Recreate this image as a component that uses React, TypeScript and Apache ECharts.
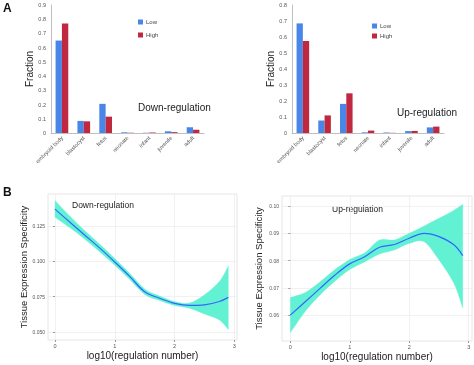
import React, { useEffect, useRef } from "react";
import * as echarts from "echarts";

const categories = ["embryoid body", "blastocyst", "fetus", "neonate", "infant", "juvenile", "adult"];
const downLow = [0.65, 0.085, 0.205, 0.005, 0.002, 0.012, 0.04];
const downHigh = [0.77, 0.082, 0.115, 0.001, 0.003, 0.006, 0.022];
const upLow = [0.685, 0.078, 0.182, 0.004, 0.003, 0.012, 0.035];
const upHigh = [0.575, 0.11, 0.248, 0.015, 0.001, 0.013, 0.04];

const regX = [0, 0.25, 0.5, 0.75, 1, 1.25, 1.5, 1.75, 2, 2.25, 2.5, 2.75, 2.9];
const downMean = [0.1368, 0.1276, 0.1184, 0.1093, 0.0995, 0.0893, 0.0785, 0.0739, 0.0703, 0.0688, 0.0692, 0.0716, 0.0745];
const downUpper = [0.1429, 0.1318, 0.1215, 0.112, 0.102, 0.0915, 0.0805, 0.0755, 0.0716, 0.0705, 0.0763, 0.0857, 0.0967];
const downLower = [0.1311, 0.1236, 0.1155, 0.1066, 0.0972, 0.0872, 0.0766, 0.0723, 0.0688, 0.0668, 0.0628, 0.0585, 0.0517];
const upMean = [0.06, 0.0649, 0.0698, 0.0747, 0.0788, 0.0814, 0.0849, 0.0859, 0.0882, 0.09, 0.0888, 0.0858, 0.0818];
const upUpper = [0.0665, 0.0683, 0.0722, 0.0767, 0.0804, 0.0829, 0.0876, 0.0876, 0.09, 0.0927, 0.0955, 0.0985, 0.1007];
const upLower = [0.0535, 0.0613, 0.0674, 0.0724, 0.0767, 0.0795, 0.0824, 0.0839, 0.0863, 0.0869, 0.0802, 0.0717, 0.0626];

const xTicks = [0, 1, 2, 3];
const downYTicks = [0.05, 0.075, 0.1, 0.125];
const upYTicks = [0.06, 0.07, 0.08, 0.09, 0.1];

const BLUE = "#4a86e8";
const RED = "#c0283f";
const BAND = "#62f2d3";
const LINE = "#3366ff";
const FONT = "Liberation Sans, Arial, sans-serif";

// Catmull-Rom spline through pixel points, as SVG cubic segments (no moveTo)
function splineSegs(p: number[][]): string {
  let d = "";
  const n = p.length;
  for (let i = 0; i < n - 1; i++) {
    const p0 = p[Math.max(0, i - 1)];
    const p1 = p[i];
    const p2 = p[i + 1];
    const p3 = p[Math.min(n - 1, i + 2)];
    const c1x = p1[0] + (p2[0] - p0[0]) / 6;
    const c1y = p1[1] + (p2[1] - p0[1]) / 6;
    const c2x = p2[0] - (p3[0] - p1[0]) / 6;
    const c2y = p2[1] - (p3[1] - p1[1]) / 6;
    d += ` C${c1x.toFixed(2)},${c1y.toFixed(2)} ${c2x.toFixed(2)},${c2y.toFixed(2)} ${p2[0].toFixed(2)},${p2[1].toFixed(2)}`;
  }
  return d;
}

export default function App() {
  const ref = useRef<HTMLDivElement>(null);
  useEffect(() => {
    const chart = echarts.init(ref.current!, null, { renderer: "svg" });
    const barX = (gi: number) => ({
      type: "category",
      gridIndex: gi,
      data: categories,
      axisLine: { lineStyle: { color: "#bfbfbf" } },
      axisTick: { length: 2, lineStyle: { color: "#bfbfbf" } },
      axisLabel: { rotate: 45, fontSize: 5.5, color: "#555", margin: 4, fontFamily: FONT },
    });
    const barY = (gi: number, max: number) => ({
      type: "value",
      gridIndex: gi,
      min: 0,
      max,
      interval: 0.1,
      name: "Fraction",
      nameLocation: "middle",
      nameGap: 17,
      nameTextStyle: { fontSize: 10, color: "#222", fontFamily: FONT },
      axisLine: { show: true, lineStyle: { color: "#bfbfbf" } },
      axisTick: { show: false },
      splitLine: { show: false },
      axisLabel: { fontSize: 5.5, color: "#555", margin: 5, fontFamily: FONT, formatter: (v: number) => (v === 0 ? "0" : v.toFixed(1)) },
    });
    const lineX = (gi: number, min: number, max: number) => ({
      type: "value",
      gridIndex: gi,
      min,
      max,
      name: "log10(regulation number)",
      nameLocation: "middle",
      nameGap: 10,
      nameTextStyle: { fontSize: 10, color: "#222", fontFamily: FONT },
      axisLine: { show: false },
      axisTick: { show: true, customValues: xTicks, length: 2, lineStyle: { color: "#999" } },
      axisLabel: { customValues: xTicks, fontSize: 5.5, color: "#555", margin: 3, fontFamily: FONT },
      splitLine: { show: true, lineStyle: { color: "#ededed", width: 0.8 } },
    });
    const lineY = (gi: number, min: number, max: number, ticks: number[], dec: number) => ({
      type: "value",
      gridIndex: gi,
      min,
      max,
      name: "Tissue Expression Specificity",
      nameLocation: "middle",
      nameGap: 19,
      nameTextStyle: { fontSize: 9.5, color: "#222", fontFamily: FONT },
      axisLine: { show: false },
      axisTick: { show: true, customValues: ticks, length: 2, lineStyle: { color: "#999" } },
      axisLabel: { customValues: ticks, fontSize: 5, color: "#555", margin: 3, fontFamily: FONT, formatter: (v: number) => v.toFixed(dec) },
      splitLine: { show: true, lineStyle: { color: "#ededed", width: 0.8 } },
    });
    const pts = (ys: number[]) => regX.map((x, i) => [x, ys[i]]);
    const bandSeries = (gi: number, upper: number[], lower: number[], mean: number[]) => [
      {
        type: "custom",
        xAxisIndex: gi,
        yAxisIndex: gi,
        silent: true,
        clip: true,
        data: regX.map((x, i) => [x, lower[i], upper[i]]),
        encode: { x: 0, y: [1, 2] },
        renderItem: (params: any, api: any) => {
          if (params.dataIndex !== 0) return null;
          const up = regX.map((x, i) => api.coord([x, upper[i]]));
          const lo = regX.map((x, i) => api.coord([x, lower[i]])).reverse();
          const d =
            `M${up[0][0].toFixed(2)},${up[0][1].toFixed(2)}` +
            splineSegs(up) +
            ` L${lo[0][0].toFixed(2)},${lo[0][1].toFixed(2)}` +
            splineSegs(lo) +
            " Z";
          return {
            type: "path",
            shape: { pathData: d },
            style: { fill: BAND, stroke: BAND, lineWidth: 0.3 },
          };
        },
      },
      {
        type: "line", xAxisIndex: gi, yAxisIndex: gi, data: pts(mean), smooth: 0.35,
        symbol: "none", lineStyle: { width: 1.2, color: LINE }, z: 5,
      },
    ];
    const barSeries = (gi: number, low: number[], high: number[]) => [
      { type: "bar", name: "Low", xAxisIndex: gi, yAxisIndex: gi, data: low, itemStyle: { color: BLUE }, barGap: "0%", barCategoryGap: "42%" },
      { type: "bar", name: "High", xAxisIndex: gi, yAxisIndex: gi, data: high, itemStyle: { color: RED }, barGap: "0%", barCategoryGap: "42%" },
    ];
    chart.setOption({
      animation: false,
      textStyle: { fontFamily: FONT },
      grid: [
        { left: 51, top: 5, width: 153, height: 128 },
        { left: 292, top: 5, width: 152, height: 128 },
        { left: 48, top: 194, width: 189, height: 146, show: true, borderColor: "#e6e6e6", borderWidth: 1, backgroundColor: "transparent" },
        { left: 282, top: 196, width: 190, height: 145, show: true, borderColor: "#e6e6e6", borderWidth: 1, backgroundColor: "transparent" },
      ],
      legend: [
        { orient: "vertical", left: 133, top: 14, itemWidth: 5, itemHeight: 5, itemGap: 7, icon: "rect", data: ["Low", "High"], textStyle: { fontSize: 6, color: "#444", padding: [0, 0, 0, -2] } },
        { orient: "vertical", left: 367, top: 18, itemWidth: 5, itemHeight: 5, itemGap: 4, icon: "rect", data: ["Low", "High"], textStyle: { fontSize: 6, color: "#444", padding: [0, 0, 0, -2] } },
      ],
      xAxis: [barX(0), barX(1), lineX(2, -0.117, 3.045), lineX(3, -0.14, 3.055)],
      yAxis: [barY(0, 0.9), barY(1, 0.8), lineY(2, 0.0444, 0.1475, downYTicks, 3), lineY(3, 0.0505, 0.1037, upYTicks, 2)],
      series: [
        ...barSeries(0, downLow, downHigh),
        ...barSeries(1, upLow, upHigh),
        ...bandSeries(2, downUpper, downLower, downMean),
        ...bandSeries(3, upUpper, upLower, upMean),
      ],
      graphic: [
        { type: "text", left: 3, top: 2, style: { text: "A", fontSize: 12, fontWeight: "bold", fill: "#111", fontFamily: FONT } },
        { type: "text", left: 3, top: 186, style: { text: "B", fontSize: 12, fontWeight: "bold", fill: "#111", fontFamily: FONT } },
        { type: "text", left: 138, top: 102, style: { text: "Down-regulation", fontSize: 10, fill: "#222", fontFamily: FONT } },
        { type: "text", left: 397, top: 107, style: { text: "Up-regulation", fontSize: 10, fill: "#222", fontFamily: FONT } },
        { type: "text", left: 72, top: 200, style: { text: "Down-regulation", fontSize: 8.5, fill: "#222", fontFamily: FONT } },
        { type: "text", left: 332, top: 204, style: { text: "Up-regulation", fontSize: 8.5, fill: "#222", fontFamily: FONT } },
      ],
    });
    return () => chart.dispose();
  }, []);
  return <div ref={ref} style={{ position: "fixed", left: 0, top: 0, width: 474, height: 365 }} />;
}
